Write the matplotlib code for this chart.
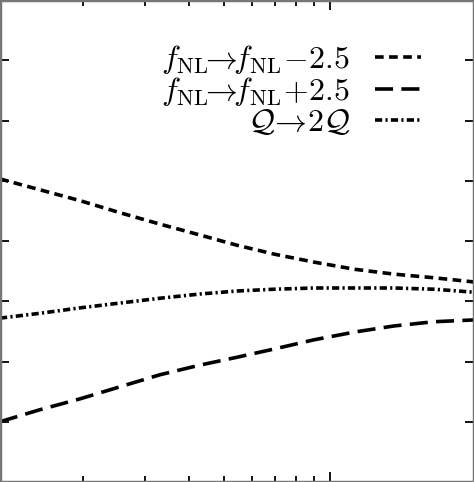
import matplotlib
matplotlib.use("Agg")
import matplotlib.pyplot as plt
from matplotlib.ticker import FixedLocator, NullFormatter

plt.rcParams['mathtext.fontset'] = 'cm'

# data (x on log scale)
x = [1.162, 1.508, 1.958, 2.54, 3.30, 4.28, 5.45, 6.98, 9.01, 11.77, 15.2, 19.7, 25.6]
y_minus = [5.03, 4.85, 4.67, 4.47, 4.28, 4.10, 3.93, 3.78, 3.65, 3.53, 3.45, 3.39, 3.32]
y_plus = [1.00, 1.20, 1.38, 1.58, 1.78, 1.94, 2.07, 2.21, 2.36, 2.49, 2.59, 2.66, 2.69]
y_q = [2.72, 2.80, 2.89, 2.97, 3.05, 3.12, 3.17, 3.20, 3.22, 3.22, 3.22, 3.20, 3.15]

labels = [r'$f_{\rm NL}\!\!\rightarrow\!\! f_{\rm NL}\!-\!2.5$',
          r'$f_{\rm NL}\!\!\rightarrow\!\! f_{\rm NL}\!+\!2.5$',
          r'$\mathcal{Q}\!\rightarrow\! 2\mathcal{Q}$']

x_major = [10]
x_minor = [2, 3, 4, 5, 6, 7, 8, 9]
y_ticks = [1, 2, 3, 4, 5, 6, 7]

fig = plt.figure(figsize=(4.74, 4.82), dpi=100)
ax = fig.add_axes([0, 0, 1, 1])

lw = 2.6
ax.plot(x, y_minus, color='black', lw=lw, dashes=(2.4, 1.5), label=labels[0])
ax.plot(x, y_plus, color='black', lw=lw, dashes=(5.0, 2.3), label=labels[1])
ax.plot(x, y_q, color='black', lw=lw, dashes=(2.0, 0.9, 0.6, 0.9), label=labels[2])

ax.set_xscale('log')
ax.set_xlim(1.162, 25.6)
ax.set_ylim(0, 8)
ax.xaxis.set_major_locator(FixedLocator(x_major))
ax.xaxis.set_minor_locator(FixedLocator(x_minor))
ax.xaxis.set_major_formatter(NullFormatter())
ax.xaxis.set_minor_formatter(NullFormatter())
ax.yaxis.set_major_locator(FixedLocator(y_ticks))
ax.yaxis.set_minor_locator(FixedLocator([]))
ax.yaxis.set_major_formatter(NullFormatter())

ax.tick_params(which='both', direction='in', top=True, right=True, color='black')
ax.tick_params(axis='x', which='major', length=7.5, width=1.3)
ax.tick_params(axis='x', which='minor', length=4, width=1.3)
ax.tick_params(axis='y', which='major', length=6.5, width=1.3)

for s in ax.spines.values():
    s.set_color('#777777')
    s.set_linewidth(2.5)

leg = ax.legend(loc='upper right', bbox_to_anchor=(0.888, 0.91), frameon=False,
                fontsize=23, handlelength=1.45, handletextpad=0.75,
                labelspacing=-0.03, borderpad=0, borderaxespad=0, markerfirst=False)
for t in leg.get_texts():
    t.set_ha('right')

fig.savefig('out.png', dpi=100)
